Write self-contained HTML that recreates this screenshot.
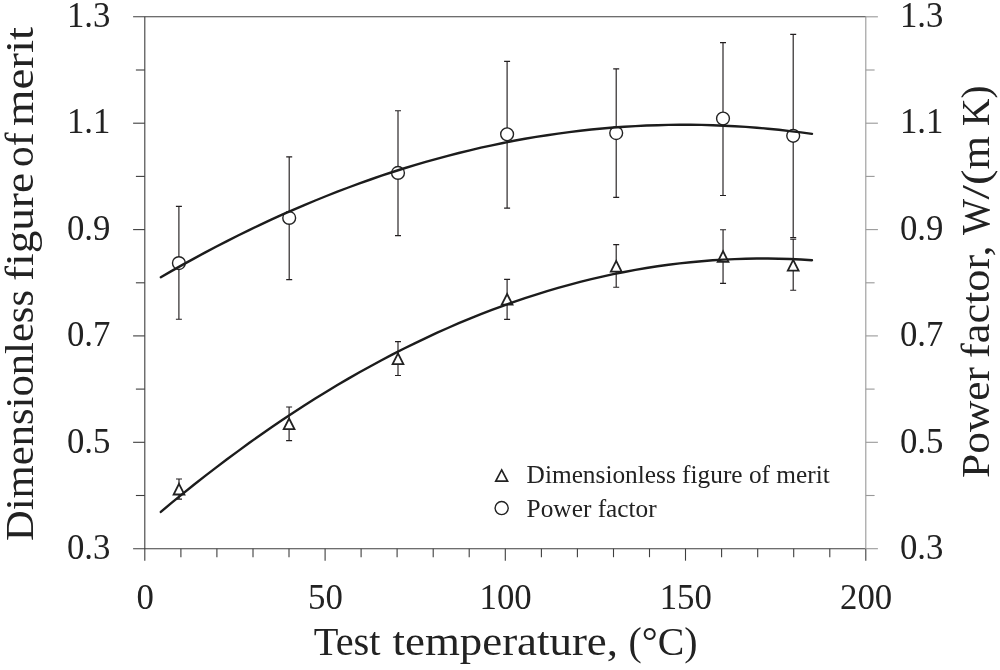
<!DOCTYPE html>
<html><head><meta charset="utf-8"><title>Chart</title>
<style>
html,body{margin:0;padding:0;background:#fff;}
body{width:1000px;height:670px;overflow:hidden;}
svg{display:block;}
text{font-family:"Liberation Serif","DejaVu Serif",serif;fill:#222;}
.tk{font-size:36px;}
.ti{font-size:41px;}
.lg{font-size:26px;font-variant-ligatures:none;}
</style></head><body>
<svg width="1000" height="670" viewBox="0 0 1000 670">
<rect width="1000" height="670" fill="#fff"/>

<g stroke="#3e3e3e" stroke-width="1.1" fill="none">
<path d="M133.1 16.8 H865.8"/>
<path d="M144.8 16.8 V560.7"/>
<path d="M133.1 548.7 H865.8"/>
<path d="M135.9 495.5 H144.8"/>
<path d="M133.1 442.3 H144.8"/>
<path d="M135.9 389.1 H144.8"/>
<path d="M133.1 335.9 H144.8"/>
<path d="M135.9 282.8 H144.8"/>
<path d="M133.1 229.6 H144.8"/>
<path d="M135.9 176.4 H144.8"/>
<path d="M133.1 123.2 H144.8"/>
<path d="M135.9 70.0 H144.8"/>
<path d="M180.9 548.7 V557.2"/>
<path d="M216.9 548.7 V557.2"/>
<path d="M253.0 548.7 V557.2"/>
<path d="M289.0 548.7 V557.2"/>
<path d="M325.1 548.7 V560.7"/>
<path d="M361.1 548.7 V557.2"/>
<path d="M397.1 548.7 V557.2"/>
<path d="M433.2 548.7 V557.2"/>
<path d="M469.2 548.7 V557.2"/>
<path d="M505.3 548.7 V560.7"/>
<path d="M541.4 548.7 V557.2"/>
<path d="M577.4 548.7 V557.2"/>
<path d="M613.5 548.7 V557.2"/>
<path d="M649.5 548.7 V557.2"/>
<path d="M685.5 548.7 V560.7"/>
<path d="M721.6 548.7 V557.2"/>
<path d="M757.7 548.7 V557.2"/>
<path d="M793.7 548.7 V557.2"/>
<path d="M829.8 548.7 V557.2"/>
<path d="M865.8 548.7 V560.7"/>
</g>
<g stroke="#999" stroke-width="1.1" fill="none">
<path d="M865.8 16.8 V548.7"/>
<path d="M865.8 548.7 H877.9"/>
<path d="M865.8 495.5 H874.6"/>
<path d="M865.8 442.3 H877.9"/>
<path d="M865.8 389.1 H874.6"/>
<path d="M865.8 335.9 H877.9"/>
<path d="M865.8 282.8 H874.6"/>
<path d="M865.8 229.6 H877.9"/>
<path d="M865.8 176.4 H874.6"/>
<path d="M865.8 123.2 H877.9"/>
<path d="M865.8 70.0 H874.6"/>
<path d="M865.8 16.8 H877.9"/>
</g>
<g stroke="#231f20" stroke-width="1.15" fill="none">
<path d="M178.9 206.4 V319.2 M175.9 206.4 h6 M175.9 319.2 h6"/>
<path d="M289.2 156.9 V279.6 M286.2 156.9 h6 M286.2 279.6 h6"/>
<path d="M398.0 110.7 V235.6 M395.0 110.7 h6 M395.0 235.6 h6"/>
<path d="M507.1 61.3 V208.1 M504.1 61.3 h6 M504.1 208.1 h6"/>
<path d="M616.2 68.9 V197.3 M613.2 68.9 h6 M613.2 197.3 h6"/>
<path d="M723.0 42.6 V195.5 M720.0 42.6 h6 M720.0 195.5 h6"/>
<path d="M793.2 34.3 V237.6 M790.2 34.3 h6 M790.2 237.6 h6"/>
<path d="M179.0 479.0 V499.1 M176.0 479.0 h6 M176.0 499.1 h6"/>
<path d="M289.1 407.0 V440.6 M286.1 407.0 h6 M286.1 440.6 h6"/>
<path d="M398.0 341.6 V375.5 M395.0 341.6 h6 M395.0 375.5 h6"/>
<path d="M507.1 279.4 V319.3 M504.1 279.4 h6 M504.1 319.3 h6"/>
<path d="M616.2 244.6 V287.2 M613.2 244.6 h6 M613.2 287.2 h6"/>
<path d="M723.05 229.75 V283.3 M720.05 229.75 h6 M720.05 283.3 h6"/>
<path d="M793.2 239.2 V290.2 M790.2 239.2 h6 M790.2 290.2 h6"/>
</g>
<g stroke="#222" stroke-width="1.4" fill="#fff">
<circle cx="178.9" cy="263.1" r="6.4"/>
<circle cx="289.2" cy="217.9" r="6.4"/>
<circle cx="398.0" cy="172.9" r="6.4"/>
<circle cx="507.1" cy="134.3" r="6.4"/>
<circle cx="616.2" cy="133.1" r="6.4"/>
<circle cx="723.0" cy="118.5" r="6.4"/>
<circle cx="793.2" cy="135.8" r="6.4"/>
</g>
<g stroke="#222" stroke-width="1.8" fill="#fff" stroke-linejoin="miter">
<path d="M179.0 483.80 L184.40 494.50 L173.60 494.50 Z"/>
<path d="M289.1 418.50 L294.50 429.20 L283.70 429.20 Z"/>
<path d="M398.0 353.40 L403.40 364.10 L392.60 364.10 Z"/>
<path d="M507.1 294.00 L512.50 304.70 L501.70 304.70 Z"/>
<path d="M616.2 260.90 L621.60 271.60 L610.80 271.60 Z"/>
<path d="M723.05 251.20 L728.45 261.90 L717.65 261.90 Z"/>
<path d="M793.2 259.90 L798.60 270.60 L787.80 270.60 Z"/>
</g>
<g stroke="#1c1c1c" stroke-width="2.4" fill="none" stroke-linecap="round">
<path d="M160.8 277.2 L171.8 270.9 L182.9 264.6 L193.9 258.6 L204.9 252.6 L216.0 246.8 L227.0 241.1 L238.1 235.5 L249.1 230.1 L260.1 224.8 L271.2 219.7 L282.2 214.7 L293.2 209.8 L304.3 205.1 L315.3 200.5 L326.4 196.0 L337.4 191.7 L348.4 187.5 L359.5 183.4 L370.5 179.5 L381.5 175.7 L392.6 172.0 L403.6 168.5 L414.7 165.1 L425.7 161.9 L436.7 158.8 L447.8 155.8 L458.8 153.0 L469.8 150.3 L480.9 147.7 L491.9 145.3 L503.0 143.0 L514.0 140.8 L525.0 138.8 L536.1 136.9 L547.1 135.2 L558.1 133.6 L569.2 132.1 L580.2 130.7 L591.3 129.5 L602.3 128.5 L613.3 127.5 L624.4 126.7 L635.4 126.1 L646.4 125.5 L657.5 125.2 L668.5 124.9 L679.6 124.8 L690.6 124.8 L701.6 124.9 L712.7 125.2 L723.7 125.7 L734.7 126.2 L745.8 126.9 L756.8 127.7 L767.9 128.7 L778.9 129.8 L789.9 131.1 L801.0 132.4 L812.0 133.9"/>
<path d="M160.8 511.9 L171.8 502.7 L182.9 493.6 L193.9 484.8 L204.9 476.1 L216.0 467.6 L227.0 459.2 L238.1 451.1 L249.1 443.0 L260.1 435.2 L271.2 427.5 L282.2 420.0 L293.2 412.7 L304.3 405.6 L315.3 398.6 L326.4 391.8 L337.4 385.1 L348.4 378.6 L359.5 372.3 L370.5 366.2 L381.5 360.2 L392.6 354.4 L403.6 348.8 L414.7 343.4 L425.7 338.1 L436.7 332.9 L447.8 328.0 L458.8 323.2 L469.8 318.6 L480.9 314.2 L491.9 309.9 L503.0 305.8 L514.0 301.9 L525.0 298.1 L536.1 294.6 L547.1 291.1 L558.1 287.9 L569.2 284.8 L580.2 281.9 L591.3 279.2 L602.3 276.6 L613.3 274.2 L624.4 272.0 L635.4 269.9 L646.4 268.0 L657.5 266.3 L668.5 264.8 L679.6 263.4 L690.6 262.2 L701.6 261.2 L712.7 260.3 L723.7 259.6 L734.7 259.1 L745.8 258.7 L756.8 258.5 L767.9 258.5 L778.9 258.7 L789.9 259.0 L801.0 259.5 L812.0 260.2"/>
</g>
<text class="tk" transform="translate(110.3 558.9) scale(0.965 1)" text-anchor="end">0.3</text>
<text class="tk" transform="translate(900.0 558.9) scale(0.965 1)">0.3</text>
<text class="tk" transform="translate(110.3 452.5) scale(0.965 1)" text-anchor="end">0.5</text>
<text class="tk" transform="translate(900.0 452.5) scale(0.965 1)">0.5</text>
<text class="tk" transform="translate(110.3 346.1) scale(0.965 1)" text-anchor="end">0.7</text>
<text class="tk" transform="translate(900.0 346.1) scale(0.965 1)">0.7</text>
<text class="tk" transform="translate(110.3 239.8) scale(0.965 1)" text-anchor="end">0.9</text>
<text class="tk" transform="translate(900.0 239.8) scale(0.965 1)">0.9</text>
<text class="tk" transform="translate(110.3 133.4) scale(0.965 1)" text-anchor="end">1.1</text>
<text class="tk" transform="translate(900.0 133.4) scale(0.965 1)">1.1</text>
<text class="tk" transform="translate(110.3 27.0) scale(0.965 1)" text-anchor="end">1.3</text>
<text class="tk" transform="translate(900.0 27.0) scale(0.965 1)">1.3</text>
<text class="tk" transform="translate(145.1 609.3) scale(0.965 1)" text-anchor="middle">0</text>
<text class="tk" transform="translate(325.4 609.3) scale(0.965 1)" text-anchor="middle">50</text>
<text class="tk" transform="translate(505.6 609.3) scale(0.965 1)" text-anchor="middle">100</text>
<text class="tk" transform="translate(685.8 609.3) scale(0.965 1)" text-anchor="middle">150</text>
<text class="tk" transform="translate(866.1 609.3) scale(0.965 1)" text-anchor="middle">200</text>
<text class="ti" y="654.5" xml:space="preserve"><tspan x="313.8" textLength="66.7" lengthAdjust="spacingAndGlyphs">Test</tspan><tspan x="380.5" textLength="12.0" lengthAdjust="spacingAndGlyphs"> </tspan><tspan x="392.5" textLength="225.5" lengthAdjust="spacingAndGlyphs">temperature,</tspan><tspan x="618.0" textLength="10.5" lengthAdjust="spacingAndGlyphs"> </tspan><tspan x="628.5" textLength="69.0" lengthAdjust="spacingAndGlyphs">(°C)</tspan></text>
<text class="ti" transform="translate(32.8 541) rotate(-90)" xml:space="preserve"><tspan x="0.0" textLength="251.0" lengthAdjust="spacingAndGlyphs">Dimensionless</tspan><tspan x="251.0" textLength="9.0" lengthAdjust="spacingAndGlyphs"> </tspan><tspan x="260.0" textLength="108.0" lengthAdjust="spacingAndGlyphs">figure</tspan><tspan x="368.0" textLength="6.0" lengthAdjust="spacingAndGlyphs"> </tspan><tspan x="374.0" textLength="34.5" lengthAdjust="spacingAndGlyphs">of</tspan><tspan x="408.5" textLength="6.5" lengthAdjust="spacingAndGlyphs"> </tspan><tspan x="415.0" textLength="99.0" lengthAdjust="spacingAndGlyphs">merit</tspan></text>
<text class="ti" transform="translate(988.8 478) rotate(-90)" xml:space="preserve"><tspan x="0.0" textLength="111.0" lengthAdjust="spacingAndGlyphs">Power</tspan><tspan x="111.0" textLength="9.0" lengthAdjust="spacingAndGlyphs"> </tspan><tspan x="120.0" textLength="112.5" lengthAdjust="spacingAndGlyphs">factor,</tspan><tspan x="232.5" textLength="10.5" lengthAdjust="spacingAndGlyphs"> </tspan><tspan x="243.0" textLength="36.0" lengthAdjust="spacingAndGlyphs">W</tspan><tspan x="278.5" textLength="14.5" lengthAdjust="spacingAndGlyphs">/</tspan><tspan x="293.0" textLength="15.5" lengthAdjust="spacingAndGlyphs">(</tspan><tspan x="308.5" textLength="33.5" lengthAdjust="spacingAndGlyphs">m</tspan><tspan x="342.0" textLength="10.0" lengthAdjust="spacingAndGlyphs"> </tspan><tspan x="352.0" textLength="27.5" lengthAdjust="spacingAndGlyphs">K</tspan><tspan x="379.5" textLength="13.0" lengthAdjust="spacingAndGlyphs">)</tspan></text>
<path d="M501.65 469.95 L507.55 481.15 L495.75 481.15 Z" stroke="#222" stroke-width="1.7" fill="#fff"/>
<circle cx="501.65" cy="508.1" r="6.55" stroke="#222" stroke-width="1.4" fill="#fff"/>
<text class="lg" transform="translate(526.6 483.3) scale(0.975 1)">Dimensionless figure of merit</text>
<text class="lg" transform="translate(526.6 516.6) scale(0.975 1)">Power factor</text>
</svg></body></html>
